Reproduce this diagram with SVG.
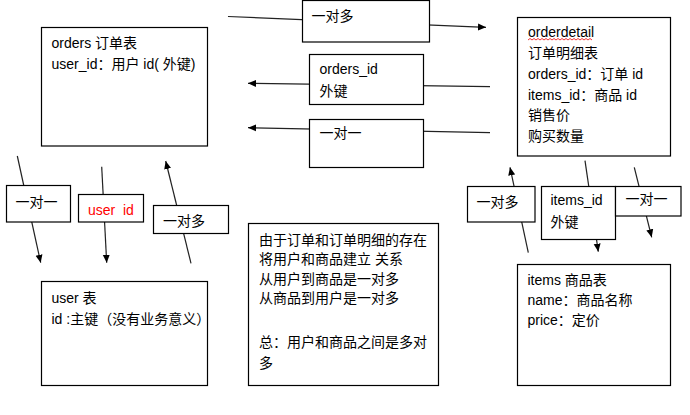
<svg xmlns="http://www.w3.org/2000/svg" width="690" height="415" viewBox="0 0 690 415">
<style>
.box{fill:#fff;stroke:#000;stroke-width:1.2}
.t{font-family:"Liberation Sans","Noto Sans CJK SC",sans-serif;font-size:14px;fill:#000}
.red{fill:#ff0000}
.c{stroke:#222;stroke-width:1.2;fill:none;marker-end:url(#ah)}
</style>
<defs>
<marker id="ah" markerUnits="userSpaceOnUse" markerWidth="9" markerHeight="8" refX="8" refY="4" orient="auto">
<path d="M0,0.5 L8,4 L0,7.5 z" fill="#000"/>
</marker>
</defs>
<rect width="690" height="415" fill="#fff"/>
<g id="connectors">
<line class="c" x1="228" y1="16.5" x2="486" y2="27.3"/>
<line class="c" x1="490" y1="86.7" x2="248" y2="83.3"/>
<line class="c" x1="490" y1="132.7" x2="248" y2="127.7"/>
<line class="c" x1="17.3" y1="156" x2="40.7" y2="262.7"/>
<line class="c" x1="101.7" y1="166.7" x2="106.7" y2="262.7"/>
<line class="c" x1="191" y1="263.3" x2="165.7" y2="161"/>
<line class="c" x1="528.3" y1="252.7" x2="510" y2="167.3"/>
<line class="c" x1="585" y1="160.7" x2="598.3" y2="251.7"/>
<line class="c" x1="634.3" y1="167.3" x2="651.7" y2="237.3"/>
</g>
<g id="orders">
<rect class="box" x="41.5" y="27.5" width="166" height="118.5"/>
<text class="t" x="51.5" y="48">orders 订单表</text>
<text class="t" x="51.5" y="69">user_id：用户 id( 外键)</text>
</g>
<g id="orderdetail">
<rect class="box" x="517.5" y="17.5" width="153" height="138.5"/>
<text class="t" x="528" y="37">orderdetail</text>
<path d="M528,40 l2,-1.5 l2,1.5 l2,-1.5 l2,1.5 l2,-1.5 l2,1.5 l2,-1.5 l2,1.5 l2,-1.5 l2,1.5 l2,-1.5 l2,1.5 l2,-1.5 l2,1.5 l2,-1.5 l2,1.5 l2,-1.5 l2,1.5 l2,-1.5 l2,1.5 l2,-1.5 l2,1.5 l2,-1.5 l2,1.5 l2,-1.5 l2,1.5 l2,-1.5 l2,1.5 l2,-1.5 l2,1.5 l2,-1.5 l2,1.5" fill="none" stroke="#e00" stroke-width="0.8"/>
<text class="t" x="528" y="58">订单明细表</text>
<text class="t" x="528" y="79">orders_id：订单 id</text>
<text class="t" x="528" y="100">items_id：商品 id</text>
<text class="t" x="528" y="120">销售价</text>
<text class="t" x="528" y="141">购买数量</text>
</g>
<g id="label-top-one-to-many">
<rect class="box" x="302.5" y="0.5" width="127" height="41.5"/>
<text class="t" x="311.5" y="21">一对多</text>
</g>
<g id="label-orders-id">
<rect class="box" x="309.5" y="54.5" width="114" height="50"/>
<text class="t" x="319.5" y="74">orders_id</text>
<text class="t" x="319.5" y="96">外键</text>
</g>
<g id="label-mid-one-to-one">
<rect class="box" x="309.5" y="119.5" width="114" height="48"/>
<text class="t" x="319.5" y="138">一对一</text>
</g>
<g id="label-left-one-to-one">
<rect class="box" x="6.5" y="185.5" width="64" height="36.5"/>
<text class="t" x="15.5" y="207">一对一</text>
</g>
<g id="label-user-id">
<rect class="box" x="78.5" y="194.5" width="65" height="27.5"/>
<text class="t red" x="88" y="215" xml:space="preserve">user  id</text>
</g>
<g id="label-left-one-to-many">
<rect class="box" x="153.5" y="205.5" width="75" height="28"/>
<text class="t" x="163" y="226">一对多</text>
</g>
<g id="user">
<rect class="box" x="41.5" y="281.5" width="166" height="104"/>
<text class="t" x="51.5" y="302.5">user 表</text>
<text class="t" x="51.5" y="323.5">id :主键（没有业务意义）</text>
</g>
<g id="note">
<rect class="box" x="248.5" y="223.5" width="190" height="162"/>
<text class="t" x="259" y="245">由于订单和订单明细的存在</text>
<text class="t" x="259" y="264">将用户和商品建立 关系</text>
<text class="t" x="259" y="283.5">从用户到商品是一对多</text>
<text class="t" x="259" y="303">从商品到用户是一对多</text>
<text class="t" x="259" y="347">总：用户和商品之间是多对</text>
<text class="t" x="259" y="368">多</text>
</g>
<g id="label-right-one-to-many">
<rect class="box" x="467.5" y="186.5" width="67.5" height="35.5"/>
<text class="t" x="476.5" y="207">一对多</text>
</g>
<g id="label-items-id">
<rect class="box" x="541.5" y="186.5" width="74" height="53"/>
<text class="t" x="550.5" y="205">items_id</text>
<text class="t" x="550.5" y="227">外键</text>
</g>
<g id="label-right-one-to-one">
<rect class="box" x="615.5" y="186.5" width="65.5" height="29.5"/>
<text class="t" x="625.5" y="204">一对一</text>
</g>
<g id="items">
<rect class="box" x="517.5" y="264.5" width="153" height="121"/>
<text class="t" x="527.5" y="285">items 商品表</text>
<text class="t" x="527.5" y="305">name：商品名称</text>
<text class="t" x="527.5" y="325">price：定价</text>
</g>
</svg>
